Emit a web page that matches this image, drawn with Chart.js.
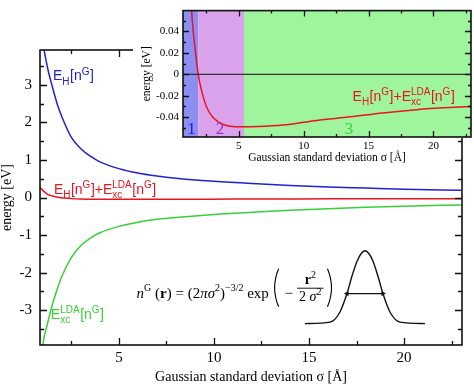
<!DOCTYPE html>
<html>
<head>
<meta charset="utf-8">
<script src="https://cdn.jsdelivr.net/npm/chart.js@4.4.0/dist/chart.umd.min.js"></script>
<style>
  html, body { margin: 0; padding: 0; background: #fff; }
  #wrap { position: relative; width: 474px; height: 384px; }
  #main { position: absolute; left: 0; top: 0; }
  #inset { position: absolute; left: 133px; top: 0; }
</style>
</head>
<body>
<div id="wrap">
  <canvas id="main" width="474" height="384"></canvas>
  <canvas id="inset" width="341" height="168"></canvas>
</div>
<script>
// energy of a gaussian charge cloud vs its width

// ? blue / green curves (main panel)
const sigma = [0.9, 1.0, 1.25, 1.5, 1.75, 2, 2.5, 3, 3.5, 4, 5, 6, 7, 8, 10, 12, 14, 16, 18, 20, 23];
const eHartree = [4.6, 4.15, 3.45, 2.95, 2.5, 2.15, 1.6, 1.3, 1.1, 0.95, 0.77, 0.65, 0.57, 0.51, 0.43, 0.37, 0.32, 0.28, 0.25, 0.22, 0.19];
const eXcLda = [-4.45, -3.92, -3.35, -2.85, -2.45, -2.1, -1.6, -1.28, -1.08, -0.94, -0.77, -0.66, -0.58, -0.53, -0.45, -0.39, -0.34, -0.3, -0.26, -0.23, -0.2];

// ? red curve (main + inset)
const sigmaTot = [0.8, 1.0, 1.2, 1.36, 1.49, 1.67, 1.87, 2.13, 2.5, 3, 3.8, 5.1, 6.5, 8.4, 11, 13.6, 16.1, 18.7, 21.3, 23];
const eTotal = [0.29, 0.19, 0.105, 0.06, 0.04, 0.02, 0, -0.015, -0.03, -0.04, -0.0468, -0.049, -0.0488, -0.0474, -0.043, -0.0397, -0.036, -0.033, -0.031, -0.030];

// ? little gaussian sketch + width arrow
const bumpSigma = [14.79, 16.11, 16.63, 17.0, 17.26, 17.53, 17.74, 17.95, 18.16, 18.37, 18.63, 18.89, 19.26, 19.79, 21.11];
const bumpE = [-3.36, -3.32, -3.05, -2.56, -2.1, -1.7, -1.5, -1.42, -1.5, -1.7, -2.1, -2.56, -3.05, -3.32, -3.36];
const arrowSigma = [17.0, 18.89];
const arrowE = [-2.56, -2.56];

// ? ticks
const xTicks = [5, 10, 15, 20];
const xMinor = [2.5, 7.5, 12.5, 17.5, 22.5];
const yTicks = [-3, -2, -1, 0, 1, 2, 3];
const yMinor = [-3.5, -2.5, -1.5, -0.5, 0.5, 1.5, 2.5, 3.5];
const insetYTicks = [-0.04, -0.02, 0, 0.02, 0.04];
const insetYMinor = [-0.05, -0.03, -0.01, 0.01, 0.03, 0.05];

// ? inset regions 1 / 2 / 3
const regionEdges = [0.7, 1.87, 5.4, 22.9];
const regionNames = ["1", "2", "3"];
const regionLabelSigma = [1.35, 3.55, 13.5];
const regionFill = ["#8e8ef2", "#d9a2ea", "#9ef59e"];
const regionText = ["#1c1cd8", "#9632c8", "#3ad23a"];

const SERIF = '"Liberation Serif", "Times New Roman", serif';
const SANS = '"Liberation Sans", Arial, sans-serif';
const BLUE = "#2222d0";
const RED = "#e8141e";
const GREEN = "#38d038";

const pts = (xs, ys) => xs.map((x, i) => ({ x, y: ys[i] }));

function curve(data, color, extra) {
  return Object.assign({
    data, borderColor: color, borderWidth: 1.5, pointRadius: 0,
    cubicInterpolationMode: "monotone", fill: false,
  }, extra || {});
}

// frame + inward ticks on all four sides
function frameTicks(xs, xm, ys, ym, major, minor) {
  return {
    id: "frameTicks",
    afterDatasetsDraw(chart) {
      const { ctx, chartArea: a } = chart;
      const sx = chart.scales.x, sy = chart.scales.y;
      ctx.save();
      ctx.strokeStyle = "#111";
      ctx.lineWidth = 1.3;
      ctx.beginPath();
      const vx = (v, len) => {
        const p = Math.round(sx.getPixelForValue(v)) + 0.5;
        ctx.moveTo(p, a.bottom); ctx.lineTo(p, a.bottom - len);
        ctx.moveTo(p, a.top); ctx.lineTo(p, a.top + len);
      };
      const vy = (v, len) => {
        const p = Math.round(sy.getPixelForValue(v)) + 0.5;
        ctx.moveTo(a.left, p); ctx.lineTo(a.left + len, p);
        ctx.moveTo(a.right, p); ctx.lineTo(a.right - len, p);
      };
      xs.forEach(v => vx(v, major)); xm.forEach(v => vx(v, minor));
      ys.forEach(v => vy(v, major)); ym.forEach(v => vy(v, minor));
      ctx.stroke();
      ctx.lineWidth = 1.6;
      ctx.strokeRect(a.left, a.top, a.right - a.left, a.bottom - a.top);
      ctx.restore();
    },
  };
}

function richText(ctx, x, y, parts, size, color) {
  ctx.save();
  ctx.fillStyle = color;
  ctx.textAlign = "left";
  ctx.textBaseline = "alphabetic";
  const big = size + "px " + SANS;
  const small = Math.round(size * 0.74) + "px " + SANS;
  for (const [txt, kind, sup] of parts) {
    if (!kind) {
      ctx.font = big;
      ctx.fillText(txt, x, y);
      x += ctx.measureText(txt).width;
      continue;
    }
    ctx.font = small;
    let w = 0;
    if (kind === "sub" || kind === "subsup") {
      ctx.fillText(txt, x, y + size * 0.3);
      w = ctx.measureText(txt).width;
    }
    if (kind === "sup") {
      ctx.fillText(txt, x, y - size * 0.42);
      w = ctx.measureText(txt).width;
    }
    if (kind === "subsup") {
      ctx.fillText(sup, x, y - size * 0.45);
      w = Math.max(w, ctx.measureText(sup).width);
    }
    x += w + 0.5;
  }
  ctx.restore();
}

const labelH = [["E"], ["H", "sub"], ["[n"], ["G", "sup"], ["]"]];
const labelXc = [["E"], ["xc", "subsup", "LDA"], ["[n"], ["G", "sup"], ["]"]];
const labelTot = [["E"], ["H", "sub"], ["[n"], ["G", "sup"], ["]+E"], ["xc", "subsup", "LDA"], ["[n"], ["G", "sup"], ["]"]];

function drawFormula(ctx, x, y) {
  ctx.save();
  ctx.fillStyle = "#000";
  ctx.strokeStyle = "#000";
  ctx.textBaseline = "alphabetic";
  const R = "15px " + SERIF, I = "italic 15px " + SERIF, B = "bold 15px " + SERIF;
  const S = "10px " + SERIF;
  const seg = (t, f, dy) => { ctx.font = f; ctx.fillText(t, x, y + (dy || 0)); x += ctx.measureText(t).width; };
  seg("n", I); seg("G", S, -7); seg(" (", R); seg("r", B); seg(") = (2", R); seg("πσ", I);
  seg("2", S, -7); seg(")", R); seg("−3/2", S, -7); seg(" exp ", R);
  const paren = (open) => {
    ctx.lineWidth = 1.1;
    ctx.beginPath();
    if (open) { ctx.moveTo(x + 6, y - 29); ctx.quadraticCurveTo(x - 2, y - 10, x + 6, y + 9); }
    else { ctx.moveTo(x + 1, y - 29); ctx.quadraticCurveTo(x + 9, y - 10, x + 1, y + 9); }
    ctx.stroke();
    x += 9;
  };
  paren(true);
  x += 3;
  seg("−", R);
  x += 4;
  // fraction r^2 / 2 sigma^2
  const N = "bold 14px " + SERIF, D = "14px " + SERIF, DI = "italic 14px " + SERIF, Ss = "10px " + SERIF;
  ctx.font = N; const wr = ctx.measureText("r").width;
  ctx.font = Ss; const w2 = ctx.measureText("2").width;
  ctx.font = D; const wd2 = ctx.measureText("2 ").width;
  ctx.font = DI; const ws = ctx.measureText("σ").width;
  const numW = wr + w2, denW = wd2 + ws + w2;
  const fw = Math.max(numW, denW) + 4;
  const nx = x + (fw - numW) / 2, dx = x + (fw - denW) / 2;
  ctx.font = N; ctx.fillText("r", nx, y - 14);
  ctx.font = Ss; ctx.fillText("2", nx + wr, y - 20);
  ctx.font = D; ctx.fillText("2 ", dx, y + 3);
  ctx.font = DI; ctx.fillText("σ", dx + wd2, y + 3);
  ctx.font = Ss; ctx.fillText("2", dx + wd2 + ws, y - 3);
  ctx.lineWidth = 0.9;
  ctx.beginPath(); ctx.moveTo(x, y - 9.5); ctx.lineTo(x + fw, y - 9.5); ctx.stroke();
  x += fw + 3;
  paren(false);
  ctx.restore();
}

const mainLabels = {
  id: "mainLabels",
  afterDraw(chart) {
    const { ctx } = chart;
    const sx = chart.scales.x, sy = chart.scales.y;
    const at = (sg, e) => [sx.getPixelForValue(sg), sy.getPixelForValue(e)];
    richText(ctx, ...at(1.53, 3.12), labelH, 14, BLUE);
    richText(ctx, ...at(1.58, 0.09), labelTot, 14, RED);
    richText(ctx, ...at(1.42, -3.24), labelXc, 14, GREEN);
    drawFormula(ctx, ...at(5.93, -2.67));
  },
};

const axisTitle = (text, size) => ({
  display: true, text, color: "#000",
  font: { family: SERIF, size, lineHeight: 1 },
  padding: { top: 0, bottom: 0 },
});

// ? main chart
new Chart(document.getElementById("main"), {
  type: "line",
  data: {
    datasets: [
      curve(pts(sigma, eHartree), BLUE),
      curve(pts(sigma, eXcLda), GREEN),
      curve(pts(sigmaTot, eTotal), RED),
      curve(pts(bumpSigma, bumpE), "#111", { borderWidth: 1.4 }),
      curve(pts(arrowSigma, arrowE), "#111", {
        borderWidth: 1.1, pointRadius: 3, pointStyle: "triangle",
        pointRotation: [270, 90], pointBackgroundColor: "#111", pointBorderWidth: 0,
      }),
    ],
  },
  options: {
    responsive: false,
    animation: false,
    layout: { padding: { top: 50, right: 12, left: 0, bottom: 0 } },
    plugins: { legend: { display: false }, tooltip: { enabled: false } },
    scales: {
      x: {
        type: "linear", min: 0.85, max: 23.05,
        afterBuildTicks: s => { s.ticks = xTicks.map(v => ({ value: v })); },
        afterFit: s => { s.height = 39; },
        grid: { display: false, drawTicks: false },
        border: { display: false },
        ticks: { color: "#000", font: { family: SERIF, size: 15 }, padding: 4, maxRotation: 0 },
        title: axisTitle("Gaussian standard deviation σ [Å]", 14),
      },
      y: {
        type: "linear", min: -3.93, max: 3.93,
        afterBuildTicks: s => { s.ticks = yTicks.map(v => ({ value: v })); },
        afterFit: s => { s.width = 40; },
        grid: { display: false, drawTicks: false },
        border: { display: false },
        ticks: { color: "#000", font: { family: SERIF, size: 15 }, padding: 8, callback: v => String(v) },
        title: axisTitle("energy [eV]", 14),
      },
    },
  },
  plugins: [frameTicks(xTicks, xMinor, yTicks, yMinor, 7, 4), mainLabels],
});

// ? inset
const insetDeco = {
  id: "insetDeco",
  beforeDraw(chart) {
    const { ctx, chartArea: a } = chart;
    ctx.save();
    ctx.fillStyle = "#fff";
    ctx.fillRect(0, 0, chart.width, a.bottom + 1);
    ctx.restore();
  },
  beforeDatasetsDraw(chart) {
    const { ctx, chartArea: a } = chart;
    const sx = chart.scales.x;
    ctx.save();
    for (let i = 0; i < regionNames.length; i++) {
      const x0 = Math.max(a.left, sx.getPixelForValue(regionEdges[i]));
      const x1 = Math.min(a.right, sx.getPixelForValue(regionEdges[i + 1]));
      ctx.fillStyle = regionFill[i];
      ctx.fillRect(x0, a.top, x1 - x0, a.bottom - a.top);
    }
    ctx.restore();
  },
  afterDraw(chart) {
    const { ctx } = chart;
    const sx = chart.scales.x, sy = chart.scales.y;
    ctx.save();
    ctx.font = "17px " + SERIF;
    ctx.textAlign = "center";
    ctx.textBaseline = "middle";
    regionNames.forEach((t, i) => {
      ctx.fillStyle = regionText[i];
      ctx.fillText(t, sx.getPixelForValue(regionLabelSigma[i]), sy.getPixelForValue(-0.0515));
    });
    ctx.restore();
    richText(ctx, sx.getPixelForValue(13.77), sy.getPixelForValue(-0.025), labelTot, 14, RED);
  },
};

new Chart(document.getElementById("inset"), {
  type: "line",
  data: {
    datasets: [
      curve(pts([0.7, 22.9], [0, 0]), "#333", { borderWidth: 1.2 }),
      curve(pts(sigmaTot, eTotal), RED),
    ],
  },
  options: {
    responsive: false,
    animation: false,
    layout: { padding: { top: 1, right: 3, left: 0, bottom: 0 } },
    plugins: { legend: { display: false }, tooltip: { enabled: false } },
    scales: {
      x: {
        type: "linear", min: 0.7, max: 22.9,
        afterBuildTicks: s => { s.ticks = xTicks.map(v => ({ value: v })); },
        afterFit: s => { s.height = 31; },
        grid: { display: false, drawTicks: false },
        border: { display: false },
        ticks: { color: "#000", font: { family: SERIF, size: 11 }, padding: 3, maxRotation: 0 },
        title: Object.assign(axisTitle("Gaussian standard deviation σ [Å]", 11.5), { padding: { top: 0, bottom: 4 } }),
      },
      y: {
        type: "linear", min: -0.0585, max: 0.0595,
        afterBuildTicks: s => { s.ticks = insetYTicks.map(v => ({ value: v })); },
        afterFit: s => { s.width = 50; },
        grid: { display: false, drawTicks: false },
        border: { display: false },
        ticks: { color: "#000", font: { family: SERIF, size: 11 }, padding: 4, callback: v => String(v) },
        title: Object.assign(axisTitle("energy [eV]", 11.5), { padding: { top: 8, bottom: 0 } }),
      },
    },
  },
  plugins: [insetDeco, frameTicks(xTicks, xMinor, insetYTicks, insetYMinor, 6, 3)],
});
</script>
</body>
</html>
